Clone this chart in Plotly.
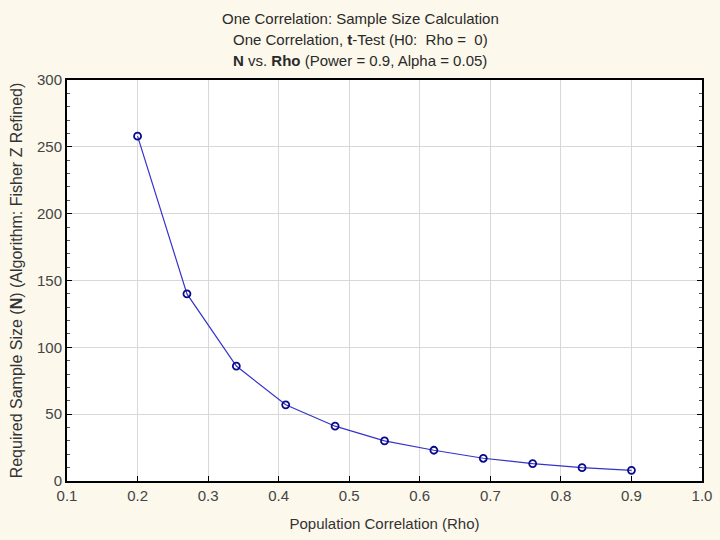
import plotly.graph_objects as go

rho = [0.20, 0.27, 0.34, 0.41, 0.48, 0.55, 0.62, 0.69, 0.76, 0.83, 0.90]
n_required = [258, 140, 86, 57, 41, 30, 23, 17, 13, 10, 8]

title_lines = [
    "One Correlation: Sample Size Calculation",
    "One Correlation, <b>t</b>-Test (H0:  Rho =  0)",
    "<b>N</b> vs. <b>Rho</b> (Power = 0.9, Alpha = 0.05)",
]
x_title = "Population Correlation (Rho)"
y_title = "Required Sample Size (<b>N</b>) (Algorithm: Fisher Z Refined)"

x_ticks = [0.1, 0.2, 0.3, 0.4, 0.5, 0.6, 0.7, 0.8, 0.9, 1.0]
x_ticklabels = ["0.1", "0.2", "0.3", "0.4", "0.5", "0.6", "0.7", "0.8", "0.9", "1.0"]
y_ticks = [0, 50, 100, 150, 200, 250, 300]

font_family = "Liberation Sans, Arial, sans-serif"

fig = go.Figure()
fig.add_trace(go.Scatter(
    x=rho, y=n_required, mode="lines+markers",
    line=dict(color="#3434c8", width=1.2),
    marker=dict(symbol="circle-open", size=7, color="#0a0a8a", line=dict(width=1.8, color="#0a0a8a")),
    showlegend=False,
))

for i, t in enumerate(title_lines):
    fig.add_annotation(
        text=t, xref="paper", yref="paper",
        x=(360 - 67) / (702 - 67), xanchor="center",
        y=1 + (80 - (18 + 21 * i)) / (481 - 80), yanchor="middle",
        showarrow=False,
        font=dict(family=font_family, size=15, color="#2a2a2a"),
    )

fig.update_layout(
    width=720, height=540,
    margin=dict(l=67, r=18, t=80, b=59),
    paper_bgcolor="#fcf8ec",
    plot_bgcolor="#ffffff",
    font=dict(family=font_family, size=15, color="#333333"),
    xaxis=dict(
        range=[0.1, 1.0], tickvals=x_ticks, ticktext=x_ticklabels,
        automargin=False,
        showgrid=True, gridcolor="#d8d8d8", gridwidth=1,
        showline=True, linecolor="#000000", linewidth=2, mirror=True,
        ticks="inside", ticklen=5, tickcolor="#000000",
        zeroline=False,
        title=dict(text=x_title, font=dict(size=15, color="#333333"), standoff=15),
        tickfont=dict(size=15, color="#444444"),
    ),
    yaxis=dict(
        range=[0, 300], tickvals=y_ticks,
        automargin=False,
        showgrid=True, gridcolor="#d8d8d8", gridwidth=1,
        showline=True, linecolor="#000000", linewidth=2, mirror="ticks",
        ticks="inside", ticklen=5, tickcolor="#000000",
        minor=dict(dtick=10, ticks="inside", ticklen=3, tickcolor="#555555", showgrid=False),
        zeroline=False,
        title=dict(text=y_title, font=dict(size=16, color="#333333"), standoff=10),
        tickfont=dict(size=15, color="#444444"),
    ),
)

fig.write_html("out.html")
